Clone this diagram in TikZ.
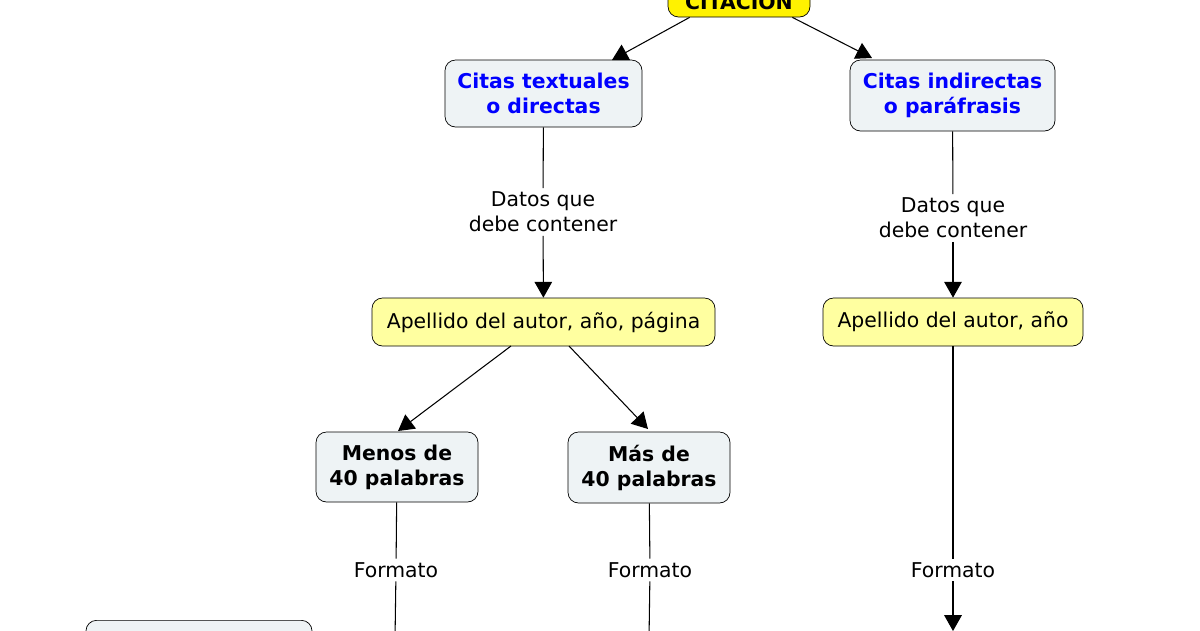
\documentclass[tikz,border=0pt]{standalone}
\usepackage{fontspec}
\setmainfont{DejaVu Sans}
\usetikzlibrary{arrows.meta}
\begin{document}
\begin{tikzpicture}[x=0.02cm,y=-0.02cm,font=\fontsize{11.6}{14.2}\selectfont,
  concept/.style={draw=black,rounded corners=6pt,fill={rgb,255:red,238;green,243;blue,245},align=center,font=\fontsize{11.6}{14.2}\selectfont\bfseries,inner sep=0pt},
  yel/.style={draw=black,rounded corners=6pt,fill={rgb,255:red,255;green,255;blue,160},align=center,inner sep=0pt},
  top/.style={draw=black,rounded corners=6pt,fill=yellow,align=center,font=\fontsize{11.6}{14.2}\selectfont\bfseries,inner sep=0pt},
  lab/.style={align=center,fill=white,inner sep=2pt},
  arr/.style={-{Triangle[length=9pt,width=10pt]}},
  ln/.style={line width=0.6pt}]
\clip (0,0) rectangle (1200,630);
\fill[white] (0,0) rectangle (1200,630);
\node[top,minimum width=142*0.02cm,minimum height=34*0.02cm] (cit) at (739,0) {CITACIÓN};
\node[concept,text=blue,minimum width=197*0.02cm,minimum height=67*0.02cm] (tex) at (543.5,93.5) {Citas textuales\\o directas};
\node[concept,text=blue,minimum width=205*0.02cm,minimum height=71*0.02cm] (ind) at (952.5,95.5) {Citas indirectas\\o paráfrasis};
\node[yel,minimum width=343*0.02cm,minimum height=48*0.02cm] (ap1) at (543.5,322) {Apellido del autor, año, página};
\node[yel,minimum width=260*0.02cm,minimum height=48*0.02cm] (ap2) at (953,322) {Apellido del autor, año};
\node[concept,minimum width=162*0.02cm,minimum height=70*0.02cm] (men) at (397,467) {Menos de\\40 palabras};
\node[concept,minimum width=162*0.02cm,minimum height=71*0.02cm] (mas) at (649,467.5) {Más de\\40 palabras};
\node[concept,minimum width=226*0.02cm,minimum height=40*0.02cm,anchor=north] (bl) at (199,620) {};
\node[lab] (l1) at (543,212) {Datos que\\debe contener};
\node[lab] (l2) at (953,218) {Datos que\\debe contener};
\node[lab] (f1) at (396,570) {Formato};
\node[lab] (f2) at (650,570) {Formato};
\node[lab] (f3) at (953,570) {Formato};
\coordinate (e1) at (395,640);
\coordinate (e2) at (649,640);
\coordinate (e3) at (953,631);
\draw[ln,arr] (cit.south west)++(22,0) -- (612,60);
\draw[ln,arr] (cit.south east)++(-18,0) -- (872,58);
\draw[ln] (tex) -- (l1); \draw[ln,arr] (l1) -- (ap1);
\draw[ln] (ind) -- (l2); \draw[ln,arr] (l2) -- (ap2);
\draw[ln,arr] (511,346) -- (398,431);
\draw[ln,arr] (569,346) -- (648,429);
\draw[ln] (men) -- (f1); \draw[ln] (f1) -- (e1);
\draw[ln] (mas) -- (f2); \draw[ln] (f2) -- (e2);
\draw[ln] (ap2) -- (f3); \draw[ln,arr] (f3) -- (e3);
\end{tikzpicture}
\end{document}
